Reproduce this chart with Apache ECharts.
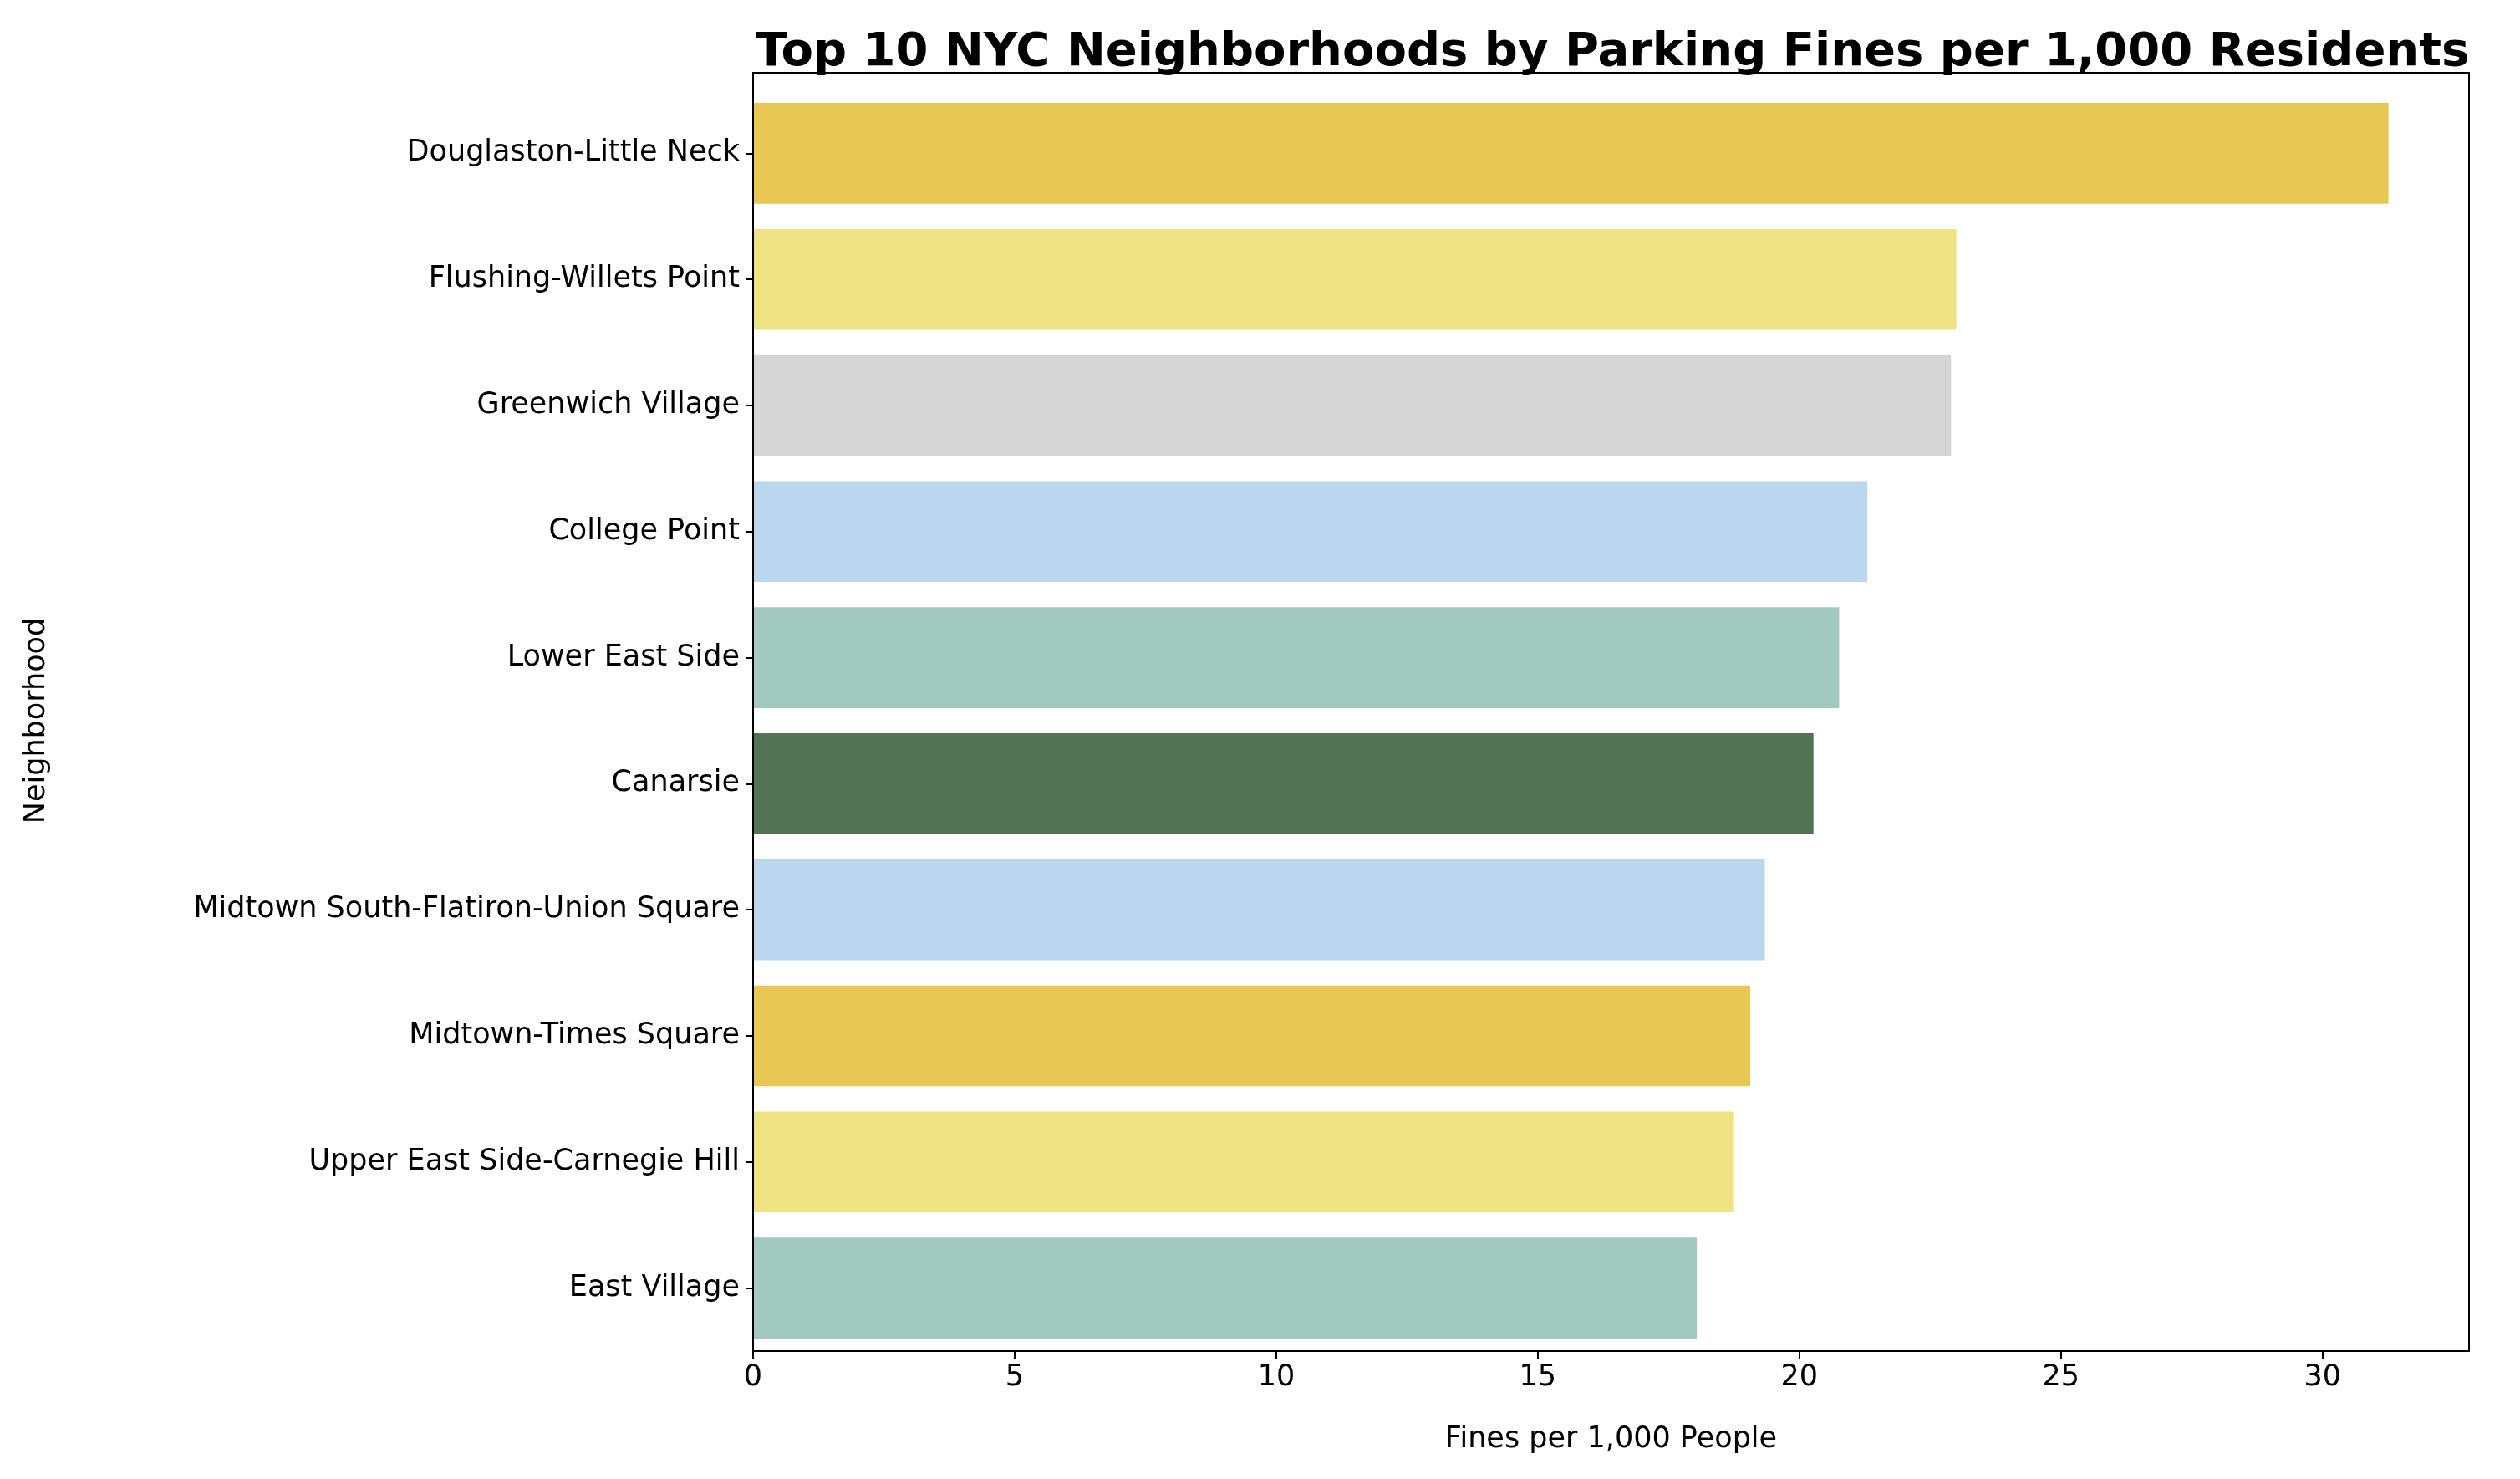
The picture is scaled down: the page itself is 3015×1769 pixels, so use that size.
<!DOCTYPE html>
<html><head><meta charset="utf-8">
<script src="https://cdn.jsdelivr.net/npm/echarts@6/dist/echarts.min.js"></script>
<style>html,body{margin:0;padding:0;background:#fff}#c{width:3015px;height:1769px}</style>
</head><body><div id="c"></div>
<script>
const categories = ["Douglaston-Little Neck","Flushing-Willets Point","Greenwich Village","College Point","Lower East Side","Canarsie","Midtown South-Flatiron-Union Square","Midtown-Times Square","Upper East Side-Carnegie Hill","East Village"];
const values = [31.26,23.0,22.9,21.3,20.76,20.27,19.34,19.06,18.75,18.04];
const colors = ["#E8C752","#F0E384","#D6D6D6","#BAD7EF","#A2C9C0","#527455","#BAD7EF","#E8C752","#F0E384","#A2C9C0"];
const xTicks = [0,5,10,15,20,25,30];
const chart = echarts.init(document.getElementById('c'));
const F = 'DejaVu Sans';
chart.setOption({
  animation:false,
  title:{text:'Top 10 NYC Neighborhoods by Parking Fines per 1,000 Residents',left:1924,top:30,textAlign:'center',textStyle:{fontFamily:F,fontSize:56,fontWeight:'bold',color:'#000'}},
  grid:{left:901,right:3015-2954,top:108,bottom:1769-1616,containLabel:false},
  xAxis:{type:'value',min:0,max:32.8,
    name:'Fines per 1,000 People',nameLocation:'middle',nameGap:88,nameTextStyle:{fontFamily:F,fontSize:35,color:'#000'},
    axisLine:{show:true,lineStyle:{color:'#000',width:2}},axisTick:{show:true,length:9,customValues:xTicks,lineStyle:{color:'#000',width:2}},
    axisLabel:{fontFamily:F,fontSize:35,color:'#000',margin:14,customValues:xTicks},
    splitLine:{show:false}},
  yAxis:{type:'category',inverse:true,data:categories,
    name:'Neighborhood',nameLocation:'middle',nameGap:840,nameTextStyle:{fontFamily:F,fontSize:35,color:'#000'},
    axisLine:{show:false},axisTick:{show:true,alignWithLabel:true,length:9,lineStyle:{color:'#000',width:2}},
    axisLabel:{fontFamily:F,fontSize:35,color:'#000',margin:16}},
  series:[{type:'bar',barCategoryGap:'20%',
    data:values.map((v,i)=>({value:v,itemStyle:{color:colors[i]}}))}],
  graphic:[{type:'rect',shape:{x:901,y:87,width:2954-901,height:1616-87},style:{fill:'none',stroke:'#000',lineWidth:2},z:100}]
});
</script></body></html>
